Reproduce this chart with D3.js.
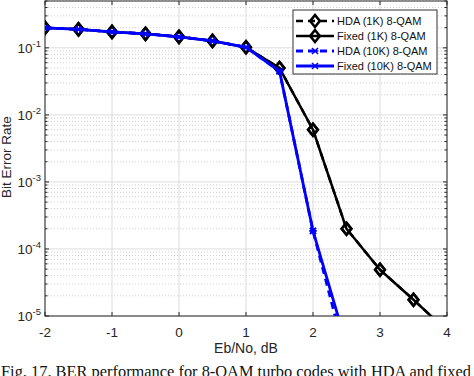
<!DOCTYPE html>
<html><head><meta charset="utf-8">
<script src="https://cdn.jsdelivr.net/npm/d3@7"></script>
<style>html,body{margin:0;padding:0;background:#fff;overflow:hidden}</style>
</head><body>
<svg id="c" width="474" height="376"></svg>
<script>
// ---- data ----
const ebno = [-2,-1.5,-1,-0.5,0,0.5,1,1.5,2,2.5,3,3.5,4];
const hda1k   = [0.199,0.189,0.173,0.162,0.146,0.127,0.102,0.050,0.0060,2.0e-4,4.9e-5,1.75e-5,6.0e-6];
const fixed1k = [0.199,0.189,0.173,0.162,0.146,0.127,0.102,0.050,0.0060,2.0e-4,4.9e-5,1.75e-5,6.0e-6];
const ebno10k = [-2,-1.5,-1,-0.5,0,0.5,1,1.5,2,2.5];
const hda10k   = [0.199,0.189,0.173,0.162,0.146,0.127,0.102,0.045,1.86e-4,2.2e-6];
const fixed10k = [0.199,0.189,0.173,0.162,0.146,0.127,0.102,0.045,1.86e-4,3.7e-6];
const xTicks = [-2,-1,0,1,2,3,4];
const yTickExp = [-1,-2,-3,-4,-5];
const legendLabels = ["HDA (1K) 8-QAM","Fixed (1K) 8-QAM","HDA (10K) 8-QAM","Fixed (10K) 8-QAM"];
const xLabel = "Eb/No, dB";
const yLabel = "Bit Error Rate";
const caption = "Fig. 17. BER performance for 8-QAM turbo codes with HDA and fixed";

// ---- layout ----
const L = 45, R = 447, T = 1, B = 316;
const svg = d3.select("#c");
const x = d3.scaleLinear().domain([-2,4]).range([L,R]);
const y = d3.scaleLog().domain([1e-5,0.5]).range([B,T]);

const font = "'Liberation Sans', Arial, Helvetica, sans-serif";

// grid
const g = svg.append("g");
const minor = [];
for (let e=-5;e<0;e++) for (let k=2;k<=9;k++){const v=k*Math.pow(10,e); if(v<=0.5) minor.push(v);}
g.selectAll(".mn").data(minor).enter().append("line")
  .attr("x1",L).attr("x2",R).attr("y1",d=>y(d)).attr("y2",d=>y(d))
  .attr("stroke","#cfcfcf").attr("stroke-width",1).attr("stroke-dasharray","1,2");
g.selectAll(".mj").data(yTickExp.map(e=>Math.pow(10,e))).enter().append("line")
  .attr("x1",L).attr("x2",R).attr("y1",d=>y(d)).attr("y2",d=>y(d))
  .attr("stroke","#dcdcdc").attr("stroke-width",1);
g.selectAll(".vx").data(xTicks).enter().append("line")
  .attr("x1",d=>x(d)).attr("x2",d=>x(d)).attr("y1",T).attr("y2",B)
  .attr("stroke","#dcdcdc").attr("stroke-width",1);

// axes box + ticks
const ax = svg.append("g").attr("stroke","#262626").attr("stroke-width",1).attr("fill","none");
ax.append("rect").attr("x",L).attr("y",T).attr("width",R-L).attr("height",B-T);
xTicks.forEach(t=>{
  ax.append("line").attr("x1",x(t)).attr("x2",x(t)).attr("y1",B).attr("y2",B-4);
  ax.append("line").attr("x1",x(t)).attr("x2",x(t)).attr("y1",T).attr("y2",T+4);
});
yTickExp.forEach(e=>{
  const yy=y(Math.pow(10,e));
  ax.append("line").attr("x1",L).attr("x2",L+4).attr("y1",yy).attr("y2",yy);
  ax.append("line").attr("x1",R).attr("x2",R-4).attr("y1",yy).attr("y2",yy);
});
minor.forEach(v=>{
  const yy=y(v);
  ax.append("line").attr("x1",L).attr("x2",L+2.5).attr("y1",yy).attr("y2",yy);
  ax.append("line").attr("x1",R).attr("x2",R-2.5).attr("y1",yy).attr("y2",yy);
});

// tick labels
svg.selectAll(".xt").data(xTicks).enter().append("text")
  .attr("x",d=>x(d)).attr("y",337).attr("text-anchor","middle")
  .attr("font-family",font).attr("font-size",13.5).attr("fill","#262626")
  .text(d=>d);
yTickExp.forEach(e=>{
  const t = svg.append("text").attr("x",41).attr("y",y(Math.pow(10,e))+5)
    .attr("text-anchor","end").attr("font-family",font).attr("font-size",13.5).attr("fill","#262626");
  t.append("tspan").text("10");
  t.append("tspan").attr("font-size",9.5).attr("dy",-6).text(String(e));
});

// axis labels
svg.append("text").attr("x",(L+R)/2).attr("y",353).attr("text-anchor","middle")
  .attr("font-family",font).attr("font-size",14).attr("fill","#262626").text(xLabel);
svg.append("text").attr("transform","translate(11,157) rotate(-90)").attr("text-anchor","middle")
  .attr("font-family",font).attr("font-size",13.5).attr("fill","#262626").text(yLabel);

// caption
svg.append("text").attr("x",1).attr("y",377).attr("font-family","'Liberation Serif', 'Times New Roman', serif")
  .attr("font-size",16.5).attr("fill","#111").attr("textLength",470).attr("lengthAdjust","spacingAndGlyphs")
  .text(caption);

// clip
svg.append("clipPath").attr("id","clip").append("rect").attr("x",L).attr("y",T).attr("width",R-L).attr("height",B-T);
const plot = svg.append("g").attr("clip-path","url(#clip)");

const line = d3.line().x(d=>x(d[0])).y(d=>y(d[1]));
function diamond(sel){ return sel.append("path").attr("d","M0,-6L4.8,0L0,6L-4.8,0Z")
  .attr("fill","none").attr("stroke","#000").attr("stroke-width",2.6); }
function star(sel){
  sel.append("path").attr("d","M-3,-3L3,3M-3,3L3,-3M-3.5,0L3.5,0")
    .attr("stroke","#0000ff").attr("stroke-width",1.6).attr("fill","none");
}
const series = [
  {xs:ebno, ys:hda1k, color:"#000", dash:"7,5", marker:diamond, w:2.5},
  {xs:ebno, ys:fixed1k, color:"#000", dash:null, marker:diamond, w:2.5},
  {xs:ebno10k, ys:hda10k, color:"#0000ff", dash:"7,5", marker:star, w:2.8},
  {xs:ebno10k, ys:fixed10k, color:"#0000ff", dash:null, marker:star, w:2.8}
];
series.forEach(s=>{
  const pts = s.xs.map((v,i)=>[v,s.ys[i]]);
  plot.append("path").datum(pts).attr("d",line).attr("fill","none")
    .attr("stroke",s.color).attr("stroke-width",s.w).attr("stroke-dasharray",s.dash)
    .attr("stroke-linejoin","round");
  pts.forEach(p=>{ const mg=plot.append("g").attr("transform",`translate(${x(p[0])},${y(p[1])})`); s.marker(mg); });
});

// legend
const lg = svg.append("g");
lg.append("rect").attr("x",293).attr("y",10).attr("width",144).attr("height",64)
  .attr("fill","#fff").attr("stroke","#333").attr("stroke-width",1);
series.forEach((s,i)=>{
  const yy = 21 + i*15;
  lg.append("line").attr("x1",296).attr("x2",334).attr("y1",yy).attr("y2",yy)
    .attr("stroke",s.color).attr("stroke-width",s.w).attr("stroke-dasharray",s.dash);
  const mg = lg.append("g").attr("transform",`translate(315,${yy})`); s.marker(mg);
  lg.append("text").attr("x",337).attr("y",yy+4).attr("font-family",font).attr("font-size",11)
    .attr("fill","#111").text(legendLabels[i]);
});
</script>
</body></html>
